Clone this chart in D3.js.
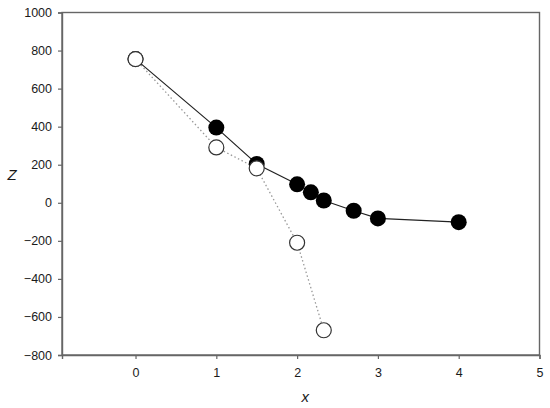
<!DOCTYPE html>
<html>
<head>
<meta charset="utf-8">
<script src="https://cdn.jsdelivr.net/npm/d3@7"></script>
<style>
  body { margin: 0; background: #fff; }
  svg text { font-family: "Liberation Sans", Arial, sans-serif; fill: #1a1a1a; }
</style>
</head>
<body>
<div id="chart"></div>
<script>

// filled series (solid line), first point sits under the open circle at x=0
var filledX = [0, 1, 1.5, 2, 2.17, 2.33, 2.7, 3, 4]
var filledZ = [755, 395, 204, 97, 55, 12, -42, -82, -102]

// open series (dotted line)
var openX = [0, 1, 1.5, 2, 2.33]
var openZ = [755, 291, 181, -210, -670]

var xTicks = [0, 1, 2, 3, 4, 5]
var yTicks = [-800, -600, -400, -200, 0, 200, 400, 600, 800, 1000]

function drawChart() {

	var width = 550, height = 408
	var margin = {top: 12.5, right: 10.5, bottom: 53, left: 62}
	var w = width - margin.left - margin.right,
		h = height - margin.top - margin.bottom

	var svg = d3.select("#chart").append("svg")
		.attr("width", width)
		.attr("height", height)

	var g = svg.append("g").attr("transform", "translate(" + margin.left + "," + margin.top + ")")

	var x = d3.scaleLinear().domain([-0.91, 5]).range([0, w])
	var y = d3.scaleLinear().domain([-800, 1000]).range([h, 0])

	var axisColor = "#666"

	// frame
	g.append("rect")
		.attr("width", w).attr("height", h)
		.attr("fill", "none")
		.attr("stroke", axisColor)
		.attr("stroke-width", 1.4)

	var xAxis = d3.axisBottom(x).tickValues(xTicks).tickSize(4).tickPadding(9).tickFormat(d3.format("d"))
	var yAxis = d3.axisLeft(y).tickValues(yTicks).tickSize(4).tickPadding(6).tickFormat(d3.format("d"))

	var gx = g.append("g").attr("transform", "translate(0," + h + ")").call(xAxis)
	var gy = g.append("g").call(yAxis)

	;[gx, gy].forEach(function(a) {
		a.style("color", "#1a1a1a")
		a.select(".domain").attr("stroke", axisColor).attr("stroke-width", 1.4)
		a.selectAll(".tick line").attr("stroke", axisColor).attr("stroke-width", 1.2)
		a.selectAll(".tick text").style("font-size", "12.5px")
	})

	var filled = filledX.map(function(d, i) { return {x: d, z: filledZ[i]} })
	var open = openX.map(function(d, i) { return {x: d, z: openZ[i]} })

	var line = d3.line().x(function(d) { return x(d.x) }).y(function(d) { return y(d.z) })

	g.append("path").datum(open)
		.attr("d", line)
		.attr("fill", "none")
		.attr("stroke", "#999")
		.attr("stroke-width", 1.3)
		.attr("stroke-dasharray", "1.5,2.5")

	g.append("path").datum(filled)
		.attr("d", line)
		.attr("fill", "none")
		.attr("stroke", "#222")
		.attr("stroke-width", 1.2)

	g.selectAll(".dotF")
		.data(filled)
		.enter().append("circle")
		.attr("class", "dotF")
		.attr("cx", function(d) { return x(d.x) })
		.attr("cy", function(d) { return y(d.z) })
		.attr("r", 8)
		.attr("fill", "#000")

	g.selectAll(".dotO")
		.data(open)
		.enter().append("circle")
		.attr("class", "dotO")
		.attr("cx", function(d) { return x(d.x) })
		.attr("cy", function(d) { return y(d.z) })
		.attr("r", 7.5)
		.attr("fill", "#fff")
		.attr("stroke", "#333")
		.attr("stroke-width", 1.2)

	svg.append("text")
		.attr("x", 12)
		.attr("y", 176)
		.attr("text-anchor", "middle")
		.attr("dominant-baseline", "middle")
		.style("font-size", "15px")
		.style("font-style", "italic")
		.text("Z")

	svg.append("text")
		.attr("x", margin.left + x(2.1))
		.attr("y", 398)
		.attr("text-anchor", "middle")
		.attr("dominant-baseline", "middle")
		.style("font-size", "15px")
		.style("font-style", "italic")
		.text("x")
}

drawChart()

</script>
</body>
</html>
